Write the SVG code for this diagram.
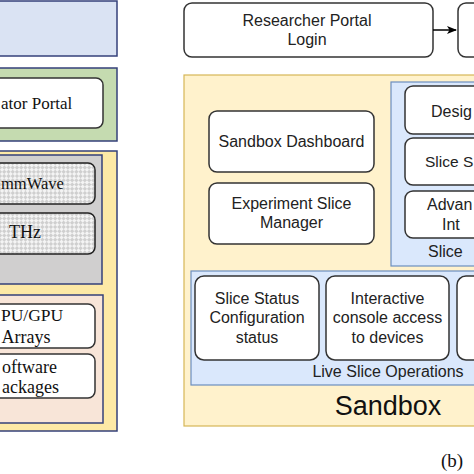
<svg xmlns="http://www.w3.org/2000/svg" width="474" height="474" viewBox="0 0 474 474">
<style>
.serif{font-family:"Liberation Serif","Times New Roman",serif;font-size:18px;fill:#111}
.sans{font-family:"Liberation Sans",Arial,sans-serif;font-size:16px;fill:#222}
.lbox{stroke:#34407a;stroke-width:1.5}
.node{fill:#fff;stroke:#333;stroke-width:1.5}
.grp{fill:#dae8fc;stroke:#6c8ebf;stroke-width:1.2}
</style>
<defs>
<pattern id="check" width="6" height="6" patternUnits="userSpaceOnUse" patternTransform="rotate(45)">
<rect width="6" height="6" fill="#f4f4f4"/>
<rect width="3" height="3" fill="#cfcfcf"/>
<rect x="3" y="3" width="3" height="3" fill="#cfcfcf"/>
</pattern>
<marker id="arr" markerWidth="10" markerHeight="10" refX="9" refY="5" orient="auto" markerUnits="userSpaceOnUse">
<path d="M0,1 L10,5 L0,9 L2.5,5 Z" fill="#000"/>
</marker>
</defs>
<rect width="474" height="474" fill="#fff"/>

<!-- Left panel (a) -->
<g id="left-top">
<rect x="-10" y="1" width="127" height="55" fill="#dae3f3" class="lbox"/>
</g>
<g id="left-portal">
<rect x="-10" y="68" width="127" height="73" fill="#c5dbb0" class="lbox"/>
<rect x="-30" y="78" width="133" height="50" rx="7" class="node" stroke="#111"/>
<text x="1" y="109" class="serif" style="font-size:17px">ator Portal</text>
</g>
<g id="left-resources">
<rect x="-10" y="151" width="127" height="280" fill="#fde9a6" class="lbox"/>
<rect x="-10" y="155" width="112" height="129" fill="#d0cfcf" class="lbox"/>
<rect x="-50" y="163" width="145" height="41" rx="7" fill="url(#check)" stroke="#222" stroke-width="1.5"/>
<text x="1" y="189" class="serif" style="font-size:16.5px">mmWave</text>
<rect x="-50" y="213" width="145" height="41" rx="7" fill="url(#check)" stroke="#222" stroke-width="1.5"/>
<text x="25" y="238" class="serif" text-anchor="middle">THz</text>
<rect x="-10" y="295" width="113" height="128" fill="#f8e5d8" class="lbox"/>
<rect x="-50" y="304" width="145" height="44" rx="7" class="node" stroke="#111"/>
<text x="1" y="321" class="serif" style="font-size:17.5px">PU/GPU</text>
<text x="26" y="343" class="serif" text-anchor="middle">Arrays</text>
<rect x="-50" y="354" width="145" height="44" rx="7" class="node" stroke="#111"/>
<text x="2" y="373" class="serif">oftware</text>
<text x="2" y="393" class="serif">ackages</text>
</g>

<!-- Right panel (b) -->
<g id="researcher-login">
<rect x="184" y="3" width="249" height="54" rx="8" class="node"/>
<text x="307" y="26" class="sans" text-anchor="middle">Researcher Portal</text>
<text x="307" y="45" class="sans" text-anchor="middle">Login</text>
</g>
<g id="next-step">
<rect x="458" y="3" width="40" height="54" rx="8" class="node"/>
</g>
<g id="connectors">
<line x1="433" y1="30" x2="456" y2="30" stroke="#000" stroke-width="1.5" marker-end="url(#arr)"/>
</g>
<g id="sandbox">
<rect x="184" y="75" width="320" height="351" fill="#fff2cc" stroke="#d6b656" stroke-width="1.2"/>
<text x="388" y="415" class="sans" style="font-size:27px;fill:#111" text-anchor="middle">Sandbox</text>
</g>
<g id="sandbox-dashboard">
<rect x="209" y="111" width="165" height="61" rx="8" class="node"/>
<text x="291.5" y="147" class="sans" text-anchor="middle">Sandbox Dashboard</text>
</g>
<g id="experiment-slice-manager">
<rect x="209" y="183" width="165" height="61" rx="8" class="node"/>
<text x="291.5" y="209" class="sans" text-anchor="middle">Experiment Slice</text>
<text x="291.5" y="228" class="sans" text-anchor="middle">Manager</text>
</g>
<g id="slice-design">
<rect x="391" y="82" width="100" height="184" class="grp"/>
<text x="428" y="257" class="sans">Slice</text>
</g>
<g id="design-node">
<rect x="405" y="86" width="90" height="48" rx="8" class="node"/>
<text x="431" y="117" class="sans">Desig</text>
</g>
<g id="slice-s-node">
<rect x="405" y="138" width="90" height="47" rx="8" class="node"/>
<text x="425" y="167" class="sans" style="font-size:15.5px">Slice S</text>
</g>
<g id="advanced-node">
<rect x="405" y="191" width="90" height="47" rx="8" class="node"/>
<text x="427" y="210" class="sans">Advan</text>
<text x="442" y="230" class="sans">Int</text>
</g>
<g id="live-slice-operations">
<rect x="191" y="271" width="300" height="114" class="grp"/>
<text x="388" y="377" class="sans" text-anchor="middle">Live Slice Operations</text>
</g>
<g id="slice-status">
<rect x="195" y="276" width="124" height="84" rx="9" class="node"/>
<text x="257" y="304" class="sans" text-anchor="middle">Slice Status</text>
<text x="257" y="323" class="sans" text-anchor="middle">Configuration</text>
<text x="257" y="343" class="sans" text-anchor="middle">status</text>
</g>
<g id="interactive-console">
<rect x="326" y="276" width="123" height="84" rx="9" class="node"/>
<text x="387.5" y="304" class="sans" text-anchor="middle">Interactive</text>
<text x="387.5" y="323" class="sans" text-anchor="middle">console access</text>
<text x="387.5" y="343" class="sans" text-anchor="middle">to devices</text>
</g>
<g id="third-op">
<rect x="457" y="276" width="40" height="84" rx="9" class="node"/>
</g>
<text x="452" y="467" class="serif" style="font-size:19px" text-anchor="middle">(b)</text>
</svg>
